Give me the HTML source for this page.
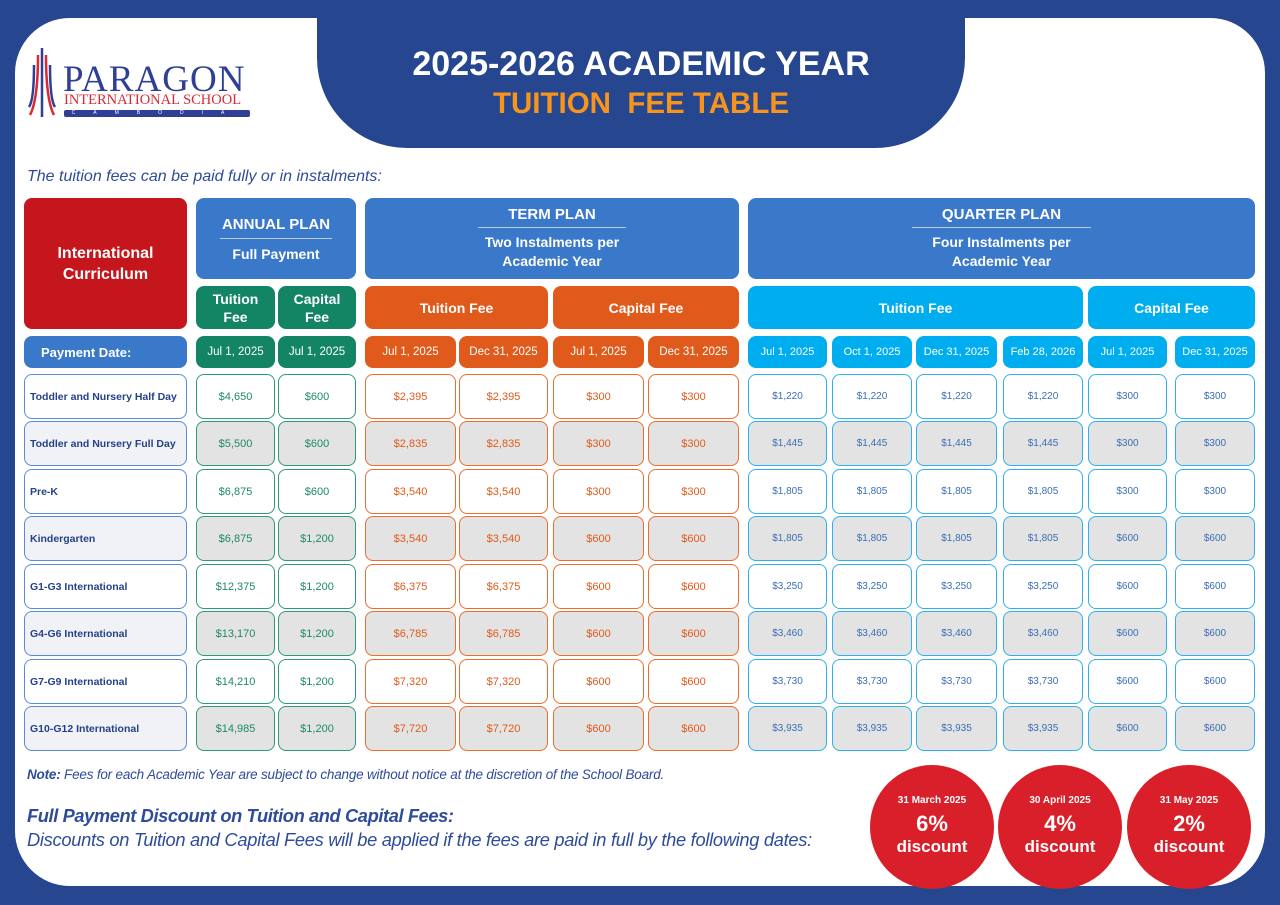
<!DOCTYPE html>
<html><head><meta charset="utf-8"><style>
*{margin:0;padding:0;box-sizing:border-box}
body{width:1280px;height:905px;background:#26478f;position:relative;overflow:hidden;font-family:"Liberation Sans",sans-serif}
.panel{position:absolute;left:15px;top:18px;width:1250px;height:868px;background:#fff;border-radius:55px}
.tab{position:absolute;left:317px;top:0;width:648px;height:148px;background:#26478f;border-radius:0 0 90px 90px}
.a{position:absolute;display:flex;align-items:center;justify-content:center;text-align:center;border-radius:8px;font-weight:bold}
.w{color:#fff}
.r{position:absolute;left:0;top:0}
.d{position:absolute;height:45px;display:flex;align-items:center;justify-content:center;border-radius:8px;border:1.5px solid;font-size:11px;background:#fff}
.g .d{background:#e3e3e3}
.g .l{background:#f1f2f6}
.l{left:24px;width:163px;border-color:#5b8bd6;color:#25418a;font-weight:bold;justify-content:flex-start;padding-left:5px;font-size:10.5px}
.gr{border-color:#2e9a78;color:#1d8a64}
.or{border-color:#ec6d2c;color:#e05a1c}
.qu{border-color:#2fb0ec;color:#3a6fb5;font-size:10px}
.c1{left:196px;width:79px}.c2{left:278px;width:78px}.c3{left:365px;width:91px}.c4{left:459px;width:89px}.c5{left:553px;width:91px}.c6{left:648px;width:91px}
.c7{left:748px;width:79px}.c8{left:832px;width:80px}.c9{left:916px;width:81px}.c10{left:1003px;width:80px}.c11{left:1088px;width:79px}.c12{left:1175px;width:80px}
.circ{position:absolute;width:124px;height:124px;border-radius:50%;background:#d91f2a;color:#fff;text-align:center;font-weight:bold}
.circ .t{font-size:10px;margin-top:30px}.circ .p{font-size:22px;margin-top:5px}.circ .s{font-size:17px}
</style></head><body>
<div class="panel"></div>
<div class="tab"></div>
<div style="position:absolute;left:317px;top:45px;width:648px;text-align:center;color:#fff;font-weight:bold;font-size:34px">2025-2026 ACADEMIC YEAR</div>
<div style="position:absolute;left:317px;top:87px;width:648px;text-align:center;color:#f7941d;font-weight:bold;font-size:29.5px">TUITION&nbsp; FEE TABLE</div>
<svg style="position:absolute;left:28px;top:45px" width="30" height="75"><g fill="none" stroke-width="2.5"><path d="M14 3 V72" stroke="#2e3f95"/><path d="M10 10 Q10 55 2 70" stroke="#d82a35"/><path d="M18 10 Q18 55 26 70" stroke="#d82a35"/><path d="M6 20 Q6 55 1 62" stroke="#2e3f95"/><path d="M22 20 Q22 55 27 62" stroke="#2e3f95"/></g></svg>
<div style="position:absolute;left:63px;top:58px;font-family:'Liberation Serif',serif;font-size:37px;color:#2e3f95;letter-spacing:1px">PARAGON</div>
<div style="position:absolute;left:64px;top:92px;font-family:'Liberation Serif',serif;font-size:14.5px;color:#d82a35">INTERNATIONAL SCHOOL</div>
<div style="position:absolute;left:64px;top:110px;width:186px;height:7px;background:#2e3f95;border-radius:2px;color:#fff;font-size:5px;letter-spacing:18px;text-align:center;line-height:7px">CAMBODIA</div>
<div style="position:absolute;left:27px;top:168px;font-size:16px;font-style:italic;color:#2e4c9a">The tuition fees can be paid fully or in instalments:</div>

<div class="a w" style="left:24px;top:198px;width:163px;height:131px;background:#c4161c;font-size:16px;line-height:21px">International<br>Curriculum</div>
<div class="a w" style="left:196px;top:198px;width:160px;height:81px;background:#3a78c9;flex-direction:column;font-size:15px"><div style="border-bottom:1px solid #bcd;padding:0 2px 5px">ANNUAL PLAN</div><div style="font-size:14px;margin-top:7px">Full Payment</div></div>
<div class="a w" style="left:365px;top:198px;width:374px;height:81px;background:#3a78c9;flex-direction:column;font-size:15px"><div style="border-bottom:1px solid #bcd;padding:0 30px 4px">TERM PLAN</div><div style="font-size:14px;margin-top:5px;line-height:19px">Two Instalments per<br>Academic Year</div></div>
<div class="a w" style="left:748px;top:198px;width:507px;height:81px;background:#3a78c9;flex-direction:column;font-size:15px"><div style="border-bottom:1px solid #bcd;padding:0 30px 4px">QUARTER PLAN</div><div style="font-size:14px;margin-top:5px;line-height:19px">Four Instalments per<br>Academic Year</div></div>

<div class="a w c1" style="top:286px;height:43px;background:#138565;font-size:14px;line-height:18px">Tuition<br>Fee</div>
<div class="a w c2" style="top:286px;height:43px;background:#138565;font-size:14px;line-height:18px">Capital<br>Fee</div>
<div class="a w" style="left:365px;width:183px;top:286px;height:43px;background:#e05a1c;font-size:14px">Tuition Fee</div>
<div class="a w" style="left:553px;width:186px;top:286px;height:43px;background:#e05a1c;font-size:14px">Capital Fee</div>
<div class="a w" style="left:748px;width:335px;top:286px;height:43px;background:#00aeef;font-size:14px">Tuition Fee</div>
<div class="a w" style="left:1088px;width:167px;top:286px;height:43px;background:#00aeef;font-size:14px">Capital Fee</div>

<div class="a w" style="left:24px;width:163px;top:336px;height:32px;background:#3a78c9;font-size:13px;justify-content:flex-start;padding-left:17px">Payment Date:</div>
<div class="a w c1" style="top:336px;height:32px;background:#138565;font-size:11.5px;font-weight:normal">Jul 1, 2025</div>
<div class="a w c2" style="top:336px;height:32px;background:#138565;font-size:11.5px;font-weight:normal">Jul 1, 2025</div>
<div class="a w c3" style="top:336px;height:32px;background:#e05a1c;font-size:11.5px;font-weight:normal">Jul 1, 2025</div>
<div class="a w c4" style="top:336px;height:32px;background:#e05a1c;font-size:11.5px;font-weight:normal">Dec 31, 2025</div>
<div class="a w c5" style="top:336px;height:32px;background:#e05a1c;font-size:11.5px;font-weight:normal">Jul 1, 2025</div>
<div class="a w c6" style="top:336px;height:32px;background:#e05a1c;font-size:11.5px;font-weight:normal">Dec 31, 2025</div>
<div class="a w c7" style="top:336px;height:32px;background:#00aeef;font-size:11px;font-weight:normal">Jul 1, 2025</div>
<div class="a w c8" style="top:336px;height:32px;background:#00aeef;font-size:11px;font-weight:normal">Oct 1, 2025</div>
<div class="a w c9" style="top:336px;height:32px;background:#00aeef;font-size:11px;font-weight:normal">Dec 31, 2025</div>
<div class="a w c10" style="top:336px;height:32px;background:#00aeef;font-size:11px;font-weight:normal">Feb 28, 2026</div>
<div class="a w c11" style="top:336px;height:32px;background:#00aeef;font-size:11px;font-weight:normal">Jul 1, 2025</div>
<div class="a w c12" style="top:336px;height:32px;background:#00aeef;font-size:11px;font-weight:normal">Dec 31, 2025</div>

<div class="r" style="top:374px"><div class="d l">Toddler and Nursery Half Day</div><div class="d gr c1">$4,650</div><div class="d gr c2">$600</div><div class="d or c3">$2,395</div><div class="d or c4">$2,395</div><div class="d or c5">$300</div><div class="d or c6">$300</div><div class="d qu c7">$1,220</div><div class="d qu c8">$1,220</div><div class="d qu c9">$1,220</div><div class="d qu c10">$1,220</div><div class="d qu c11">$300</div><div class="d qu c12">$300</div></div>
<div class="r g" style="top:421px"><div class="d l">Toddler and Nursery Full Day</div><div class="d gr c1">$5,500</div><div class="d gr c2">$600</div><div class="d or c3">$2,835</div><div class="d or c4">$2,835</div><div class="d or c5">$300</div><div class="d or c6">$300</div><div class="d qu c7">$1,445</div><div class="d qu c8">$1,445</div><div class="d qu c9">$1,445</div><div class="d qu c10">$1,445</div><div class="d qu c11">$300</div><div class="d qu c12">$300</div></div>
<div class="r" style="top:469px"><div class="d l">Pre-K</div><div class="d gr c1">$6,875</div><div class="d gr c2">$600</div><div class="d or c3">$3,540</div><div class="d or c4">$3,540</div><div class="d or c5">$300</div><div class="d or c6">$300</div><div class="d qu c7">$1,805</div><div class="d qu c8">$1,805</div><div class="d qu c9">$1,805</div><div class="d qu c10">$1,805</div><div class="d qu c11">$300</div><div class="d qu c12">$300</div></div>
<div class="r g" style="top:516px"><div class="d l">Kindergarten</div><div class="d gr c1">$6,875</div><div class="d gr c2">$1,200</div><div class="d or c3">$3,540</div><div class="d or c4">$3,540</div><div class="d or c5">$600</div><div class="d or c6">$600</div><div class="d qu c7">$1,805</div><div class="d qu c8">$1,805</div><div class="d qu c9">$1,805</div><div class="d qu c10">$1,805</div><div class="d qu c11">$600</div><div class="d qu c12">$600</div></div>
<div class="r" style="top:564px"><div class="d l">G1-G3 International</div><div class="d gr c1">$12,375</div><div class="d gr c2">$1,200</div><div class="d or c3">$6,375</div><div class="d or c4">$6,375</div><div class="d or c5">$600</div><div class="d or c6">$600</div><div class="d qu c7">$3,250</div><div class="d qu c8">$3,250</div><div class="d qu c9">$3,250</div><div class="d qu c10">$3,250</div><div class="d qu c11">$600</div><div class="d qu c12">$600</div></div>
<div class="r g" style="top:611px"><div class="d l">G4-G6 International</div><div class="d gr c1">$13,170</div><div class="d gr c2">$1,200</div><div class="d or c3">$6,785</div><div class="d or c4">$6,785</div><div class="d or c5">$600</div><div class="d or c6">$600</div><div class="d qu c7">$3,460</div><div class="d qu c8">$3,460</div><div class="d qu c9">$3,460</div><div class="d qu c10">$3,460</div><div class="d qu c11">$600</div><div class="d qu c12">$600</div></div>
<div class="r" style="top:659px"><div class="d l">G7-G9 International</div><div class="d gr c1">$14,210</div><div class="d gr c2">$1,200</div><div class="d or c3">$7,320</div><div class="d or c4">$7,320</div><div class="d or c5">$600</div><div class="d or c6">$600</div><div class="d qu c7">$3,730</div><div class="d qu c8">$3,730</div><div class="d qu c9">$3,730</div><div class="d qu c10">$3,730</div><div class="d qu c11">$600</div><div class="d qu c12">$600</div></div>
<div class="r g" style="top:706px"><div class="d l">G10-G12 International</div><div class="d gr c1">$14,985</div><div class="d gr c2">$1,200</div><div class="d or c3">$7,720</div><div class="d or c4">$7,720</div><div class="d or c5">$600</div><div class="d or c6">$600</div><div class="d qu c7">$3,935</div><div class="d qu c8">$3,935</div><div class="d qu c9">$3,935</div><div class="d qu c10">$3,935</div><div class="d qu c11">$600</div><div class="d qu c12">$600</div></div>

<div style="position:absolute;left:27px;top:767px;font-size:13.5px;font-style:italic;color:#2e4c9a;letter-spacing:-0.2px"><b>Note:</b> Fees for each Academic Year are subject to change without notice at the discretion of the School Board.</div>
<div style="position:absolute;left:27px;top:805px;font-size:18.3px;font-style:italic;font-weight:bold;color:#2e4c9a;letter-spacing:-0.4px">Full Payment Discount on Tuition and Capital Fees:</div>
<div style="position:absolute;left:27px;top:829px;font-size:18.3px;font-style:italic;color:#2e4c9a;letter-spacing:-0.3px">Discounts on Tuition and Capital Fees will be applied if the fees are paid in full by the following dates:</div>

<div class="circ" style="left:870px;top:765px"><div class="t">31 March 2025</div><div class="p">6%</div><div class="s">discount</div></div>
<div class="circ" style="left:998px;top:765px"><div class="t">30 April 2025</div><div class="p">4%</div><div class="s">discount</div></div>
<div class="circ" style="left:1127px;top:765px"><div class="t">31 May 2025</div><div class="p">2%</div><div class="s">discount</div></div>
</body></html>
